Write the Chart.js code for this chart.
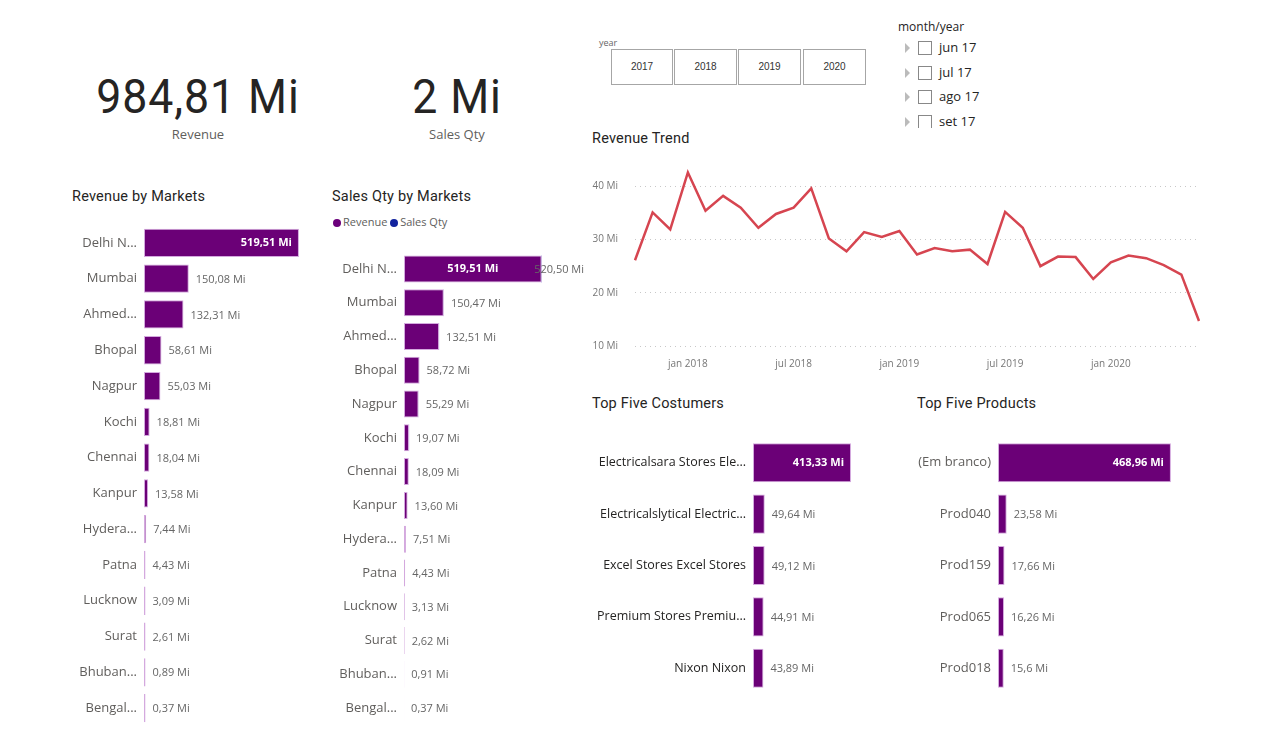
<!DOCTYPE html>
<html>
<head>
<meta charset="utf-8">
<script src="https://cdn.jsdelivr.net/npm/chart.js@4.4.1/dist/chart.umd.min.js"></script>
<style>
  body { margin: 0; background: #fff; width: 1262px; height: 735px; position: relative; overflow: hidden; font-family: 'Open Sans', sans-serif; }
  .abs { position: absolute; }
  .title { font-family: Roboto, sans-serif; font-weight: 400; font-size: 14.5px; color: #252423; line-height: 16px; white-space: nowrap; letter-spacing: 0.2px; }
  .kpi { font-family: Roboto, sans-serif; font-weight: 400; font-size: 48px; line-height: 48px; color: #252423; text-align: center; width: 300px; transform: scaleX(0.93); letter-spacing: 1px; }
  .kpiLbl { font-size: 13px; color: #605E5C; text-align: center; width: 200px; line-height: 16px; }
  .yearBtn { position: absolute; top: 49px; height: 34px; border: 1px solid #a6a6a6; font-size: 10px; color: #333; text-align: center; line-height: 34px; font-family: 'Liberation Sans', sans-serif; }
  .item { position: absolute; left: 0; height: 20px; font-size: 13px; color: #252423; line-height: 20px; }
  .tri { position: absolute; left: 7px; top: 5px; width: 0; height: 0; border-top: 5px solid transparent; border-bottom: 5px solid transparent; border-left: 5px solid #bbb; }
  .chk { position: absolute; left: 20px; top: 3px; width: 12px; height: 12px; border: 1px solid #888; }
  .itxt { position: absolute; left: 41px; top: -1px; white-space: nowrap; }
  .legend { font-size: 11px; color: #605E5C; line-height: 14px; white-space: nowrap; }
  .dot { display: inline-block; width: 8px; height: 8px; border-radius: 50%; margin-right: 2px; vertical-align: -0.5px; }
  canvas { position: absolute; }
</style>
</head>
<body>

<div class="abs kpi" style="left:48px; top:73px;">984,81 Mi</div>
<div class="abs kpiLbl" style="left:98px; top:126px;">Revenue</div>
<div class="abs kpi" style="left:307px; top:73px;">2 Mi</div>
<div class="abs kpiLbl" style="left:357px; top:126px;">Sales Qty</div>

<div class="abs" style="left:599px; top:36px; font-size:9px; color:#666;">year</div>
<div class="yearBtn" style="left:611px; width:60px;">2017</div>
<div class="yearBtn" style="left:674px; width:61px;">2018</div>
<div class="yearBtn" style="left:738px; width:61px;">2019</div>
<div class="yearBtn" style="left:803px; width:61px;">2020</div>

<div class="abs" style="left:898px; top:18px; font-size:12px; color:#252423;">month/year</div>
<div class="abs" id="monthList" style="left:898px; top:36px; width:120px; height:92px; overflow:hidden;"></div>

<div class="abs title" style="left:72px; top:189px;">Revenue by Markets</div>
<div class="abs title" style="left:332px; top:189px;">Sales Qty by Markets</div>
<div class="abs legend" style="left:333px; top:215px;"><span class="dot" style="background:#6b007b"></span>Revenue <span class="dot" style="background:#12239e"></span>Sales Qty</div>
<div class="abs title" style="left:592px; top:131px;">Revenue Trend</div>
<div class="abs title" style="left:592px; top:396px;">Top Five Costumers</div>
<div class="abs title" style="left:917px; top:396px;">Top Five Products</div>

<canvas id="revMarkets" width="320" height="501" style="left:0; top:225px;"></canvas>
<canvas id="qtyMarkets" width="265" height="473" style="left:320px; top:252px;"></canvas>
<canvas id="trend" width="640" height="210" style="left:580px; top:160px;"></canvas>
<canvas id="customers" width="310" height="257" style="left:590px; top:437px;"></canvas>
<canvas id="products" width="320" height="257" style="left:900px; top:437px;"></canvas>

<script>
// data
const markets = ['Delhi N...', 'Mumbai', 'Ahmed...', 'Bhopal', 'Nagpur', 'Kochi', 'Chennai', 'Kanpur',
                 'Hydera...', 'Patna', 'Lucknow', 'Surat', 'Bhuban...', 'Bengal...'];
const marketRevenue = [519.51, 150.08, 132.31, 58.61, 55.03, 18.81, 18.04, 13.58, 7.44, 4.43, 3.09, 2.61, 0.89, 0.37];
const marketSalesQty = [0.99, 0.39, 0.20, 0.11, 0.26, 0.26, 0.05, 0.02, 0.07, 0.00, 0.04, 0.01, 0.02, 0.00];

const trendMonths = ['out 2017', 'nov 2017', 'dez 2017',
  'jan 2018', 'fev 2018', 'mar 2018', 'abr 2018', 'mai 2018', 'jun 2018', 'jul 2018', 'ago 2018', 'set 2018', 'out 2018', 'nov 2018', 'dez 2018',
  'jan 2019', 'fev 2019', 'mar 2019', 'abr 2019', 'mai 2019', 'jun 2019', 'jul 2019', 'ago 2019', 'set 2019', 'out 2019', 'nov 2019', 'dez 2019',
  'jan 2020', 'fev 2020', 'mar 2020', 'abr 2020', 'mai 2020', 'jun 2020'];
const trendRevenue = [26.1, 35.1, 31.9, 42.6, 35.4, 38.2, 36.0, 32.2, 34.8, 36.0, 39.6, 30.2, 27.8, 31.4, 30.5, 31.6,
  27.2, 28.4, 27.8, 28.1, 25.4, 35.2, 32.2, 25.0, 26.8, 26.7, 22.6, 25.7, 27.0, 26.5, 25.2, 23.4, 14.7];
const trendTicks = [10, 20, 30, 40];

const customers = ['Electricalsara Stores Ele...', 'Electricalslytical Electric...', 'Excel Stores Excel Stores', 'Premium Stores Premiu...', 'Nixon Nixon'];
const customerRevenue = [413.33, 49.64, 49.12, 44.91, 43.89];

const products = ['(Em branco)', 'Prod040', 'Prod159', 'Prod065', 'Prod018'];
const productRevenue = [468.96, 23.58, 17.66, 16.26, 15.6];

const monthItems = ['jun 17', 'jul 17', 'ago 17', 'set 17'];

// slicer list
const list = document.getElementById('monthList');
monthItems.forEach((m, i) => {
  const d = document.createElement('div');
  d.className = 'item';
  d.style.top = (2 + i * 24.7) + 'px';
  d.innerHTML = '<div class="tri"></div><div class="chk"></div><div class="itxt">' + m + '</div>';
  list.appendChild(d);
});

const PURPLE = '#6b0077';
const PURPLE_EDGE = '#d4a9de';
const FONT = "'Open Sans', sans-serif";

function fmt(v, minDigits) {
  let s = v.toFixed(2);
  if (minDigits === 1 && s.endsWith('0')) s = s.slice(0, -1);
  return s.replace('.', ',') + ' Mi';
}

// drop the half-label padding chart.js adds at the axis ends
function noEndPadding(s) {
  s.paddingTop = 0;
  s.paddingBottom = 0;
}

// Power BI style data labels: inside if it fits, otherwise just past the bar end
const barLabels = {
  id: 'barLabels',
  afterDatasetsDraw(chart, args, opts) {
    const ctx = chart.ctx;
    const meta0 = chart.getDatasetMeta(0);
    const lastMeta = chart.getDatasetMeta(chart.data.datasets.length - 1);
    ctx.save();
    ctx.textBaseline = 'middle';
    meta0.data.forEach((bar, i) => {
      const v = chart.data.datasets[0].data[i];
      const txt = fmt(v, opts.minDigits);
      ctx.font = 'bold 11px ' + FONT;
      const wIn = ctx.measureText(txt).width;
      const barW = bar.x - bar.base;
      const fits = wIn + 14 <= barW;
      if (fits) {
        ctx.fillStyle = '#fff';
        if (opts.center) {
          ctx.textAlign = 'center';
          ctx.fillText(txt, (bar.x + bar.base) / 2, bar.y);
        } else {
          ctx.textAlign = 'right';
          ctx.fillText(txt, bar.x - 7, bar.y);
        }
      }
      if (opts.total || !fits) {
        let val = v, endX = bar.x;
        if (opts.total) {
          val = chart.data.datasets.reduce((s, ds) => s + ds.data[i], 0);
          endX = lastMeta.data[i].x;
        }
        const t = fmt(val, opts.minDigits);
        ctx.font = '11px ' + FONT;
        const w = ctx.measureText(t).width;
        const x = Math.min(endX + 7, chart.width - w - 1);
        ctx.fillStyle = '#666';
        ctx.textAlign = 'left';
        ctx.fillText(t, x, bar.y + 1);
      }
    });
    ctx.restore();
  }
};

function barChart(id, labels, datasets, xMax, axisWidth, labelColor, labelSize, barPct, labelOpts) {
  return new Chart(document.getElementById(id), {
    type: 'bar',
    data: { labels: labels, datasets: datasets },
    plugins: [barLabels],
    options: {
      indexAxis: 'y',
      responsive: false,
      animation: false,
      layout: { padding: 0 },
      datasets: { bar: { categoryPercentage: 1, barPercentage: barPct } },
      plugins: { legend: { display: false }, tooltip: { enabled: false }, barLabels: labelOpts },
      scales: {
        x: { display: false, min: 0, max: xMax, stacked: true },
        y: {
          stacked: true,
          grid: { display: false, drawTicks: false },
          border: { display: false },
          ticks: { padding: 7, color: labelColor, font: { size: labelSize, family: FONT } },
          afterFit(s) { s.width = axisWidth; noEndPadding(s); }
        }
      }
    }
  });
}

barChart('revMarkets', markets, [{
  data: marketRevenue, backgroundColor: PURPLE, borderColor: PURPLE_EDGE, borderWidth: 1, borderSkipped: false, minBarLength: 1.5
}], 590, 144, '#605E5C', 13, 0.79, { minDigits: 2 });

barChart('qtyMarkets', markets, [
  { data: marketRevenue, backgroundColor: PURPLE, borderColor: PURPLE_EDGE, borderWidth: 1, borderSkipped: false },
  { data: marketSalesQty, backgroundColor: '#12239e', borderWidth: 0 }
], 683, 84, '#605E5C', 13, 0.8, { minDigits: 2, center: true, total: true });

barChart('customers', customers, [{
  data: customerRevenue, backgroundColor: PURPLE, borderColor: PURPLE_EDGE, borderWidth: 1, borderSkipped: false
}], 620, 163, '#252423', 12.5, 0.76, { minDigits: 2 });

barChart('products', products, [{
  data: productRevenue, backgroundColor: PURPLE, borderColor: PURPLE_EDGE, borderWidth: 1, borderSkipped: false
}], 602, 98, '#605E5C', 13, 0.76, { minDigits: 1 });

// revenue trend line
new Chart(document.getElementById('trend'), {
  type: 'line',
  data: {
    labels: trendMonths,
    datasets: [{ data: trendRevenue, borderColor: '#d64550', borderWidth: 2.5, pointRadius: 0, tension: 0, fill: false }]
  },
  options: {
    responsive: false,
    animation: false,
    layout: { padding: { top: 5, right: 21, left: 0, bottom: 0 } },
    plugins: { legend: { display: false }, tooltip: { enabled: false } },
    scales: {
      x: {
        grid: { display: false },
        border: { display: false },
        ticks: {
          autoSkip: false, maxRotation: 0, padding: 4, color: '#777', font: { size: 10, family: FONT },
          callback(v, i) { const l = trendMonths[i]; return /^(jan|jul)/.test(l) ? l : ''; }
        },
        afterFit(s) { s.height = 24; s.paddingLeft = 0; s.paddingRight = 0; }
      },
      y: {
        min: 10, max: 44,
        afterBuildTicks(s) { s.ticks = trendTicks.map(v => ({ value: v })); },
        grid: { color: '#c8c8c8', drawTicks: false, lineWidth: 1 },
        border: { display: false, dash: [1, 4] },
        ticks: { padding: 17, color: '#777', font: { size: 10, family: FONT }, callback: v => v + ' Mi' },
        afterFit(s) { s.width = 55; noEndPadding(s); }
      }
    }
  }
});
</script>
</body>
</html>
